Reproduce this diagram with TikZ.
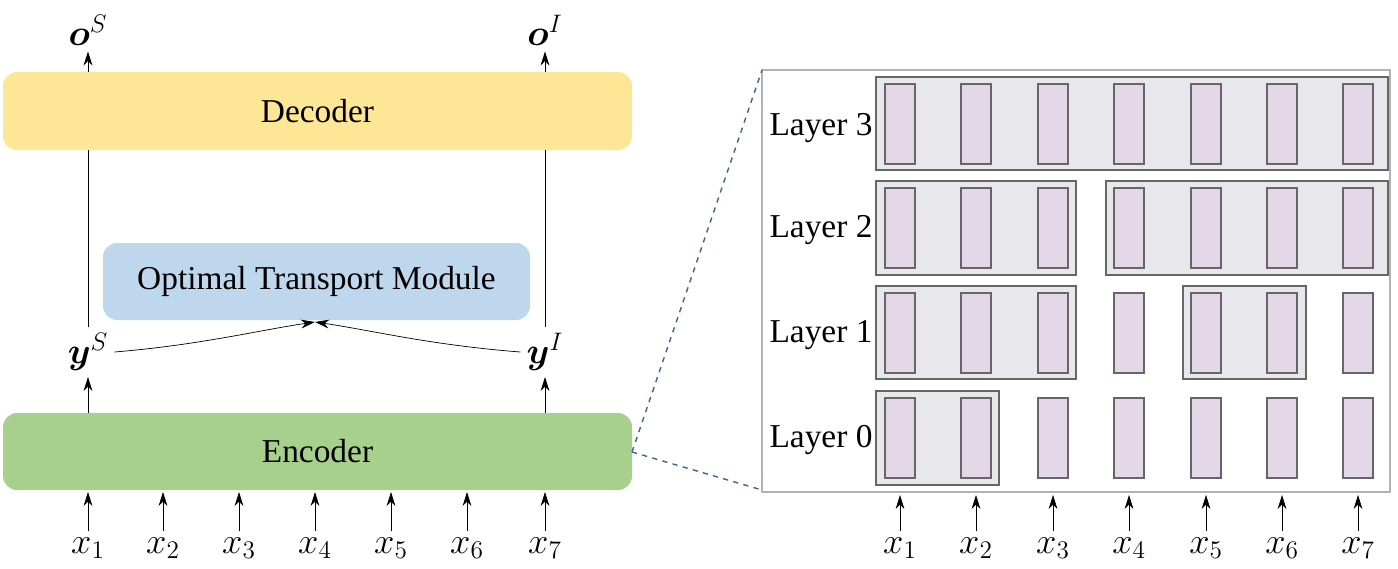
\documentclass[tikz,border=0pt]{standalone}
\usepackage{amsmath,bm}
\usepackage{fontspec}
\newfontfamily\tnr{Liberation Serif}
\usetikzlibrary{arrows.meta}
\definecolor{decY}{RGB}{253,230,150}
\definecolor{otB}{RGB}{190,215,236}
\definecolor{encG}{RGB}{168,208,141}
\definecolor{grpG}{RGB}{232,232,236}
\definecolor{cellP}{RGB}{228,216,232}
\definecolor{dashB}{RGB}{60,100,140}
\tikzset{
  module/.style={rounded corners=8pt,draw=none,font=\tnr\fontsize{19}{21}\selectfont},
  group/.style={draw=gray!80!black,fill=grpG,thick},
  cell/.style={draw=gray!80!black,fill=cellP,thick},
  tok/.style={font=\fontsize{20}{22}\selectfont},
  >={Stealth[length=8pt,width=5pt]}
}
\begin{document}
\begin{tikzpicture}[x=0.02cm,y=-0.02cm]
\useasboundingbox (0,0) rectangle (1398,568);
% left side
\node[module,fill=decY,minimum width=629*0.02cm,minimum height=78*0.02cm] (dec) at (317.5,111) {Decoder};
\node[module,fill=otB,minimum width=427*0.02cm,minimum height=77*0.02cm] (ot) at (316.5,281.5) {Optimal Transport Module};
\node[module,fill=encG,minimum width=629*0.02cm,minimum height=77*0.02cm] (enc) at (317.5,451.5) {Encoder};
\foreach \i/\x in {1/88,2/163,3/239,4/315,5/391,6/467,7/545} {
  \node[tok] (x\i) at (\x,548) {$x_{\i}$};
  \draw[->] (x\i.north) -- (\x,492);
}
\node[tok] (yS) at (88,352) {$\bm{y}^S$};
\node[tok] (yI) at (545,352) {$\bm{y}^I$};
\node[tok] (oS) at (88,30) {$\bm{o}^S$};
\node[tok] (oI) at (545,30) {$\bm{o}^I$};
\draw[->] (88,413) -- (yS.south);
\draw[->] (545,413) -- (yI.south);
\draw (yS.north) -- (88,150);
\draw (yI.north) -- (545,150);
\draw[->] (88,72) -- (oS.south);
\draw[->] (545,72) -- (oI.south);
\coordinate (otin) at (315,322);
\draw[->] (yS.east) .. controls (200,345) and (260,330) .. (otin);
\draw[->] (yI.west) .. controls (430,345) and (370,330) .. (otin);
% right panel
\draw[gray!60,thick] (762,70) rectangle (1390,492);
\draw[dashB,dashed,thick] (632,452) -- (762,70);
\draw[dashB,dashed,thick] (632,452) -- (762,490);
\foreach \l/\y in {3/128,2/230,1/335,0/440}
  \node[font=\tnr\fontsize{19}{21}\selectfont] (L\l) at (821,\y) {Layer \l};
\draw[group] (876,77) rectangle (1388,170);
\draw[group] (876,181) rectangle (1076,275);
\draw[group] (1106,181) rectangle (1388,275);
\draw[group] (876,286) rectangle (1076,379);
\draw[group] (1183,286) rectangle (1306,379);
\draw[group] (876,391) rectangle (999,485);
\foreach \i/\x in {1/900,2/976,3/1053,4/1129,5/1206,6/1282,7/1358} {
  \foreach \t in {84,188,293,398}
    \draw[cell] (\x-15,\t) rectangle (\x+15,\t+80);
  \node[tok] (r\i) at (\x,548) {$x_{\i}$};
  \draw[->] (r\i.north) -- (\x,495);
}
\end{tikzpicture}
\end{document}
